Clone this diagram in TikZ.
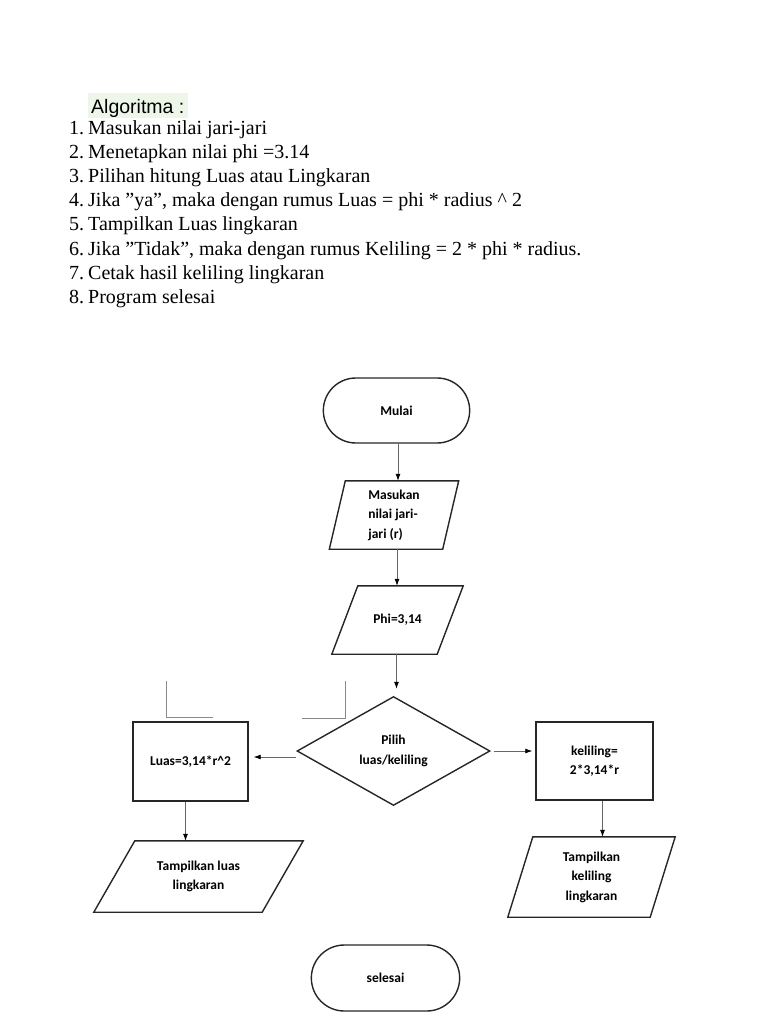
\documentclass[tikz,border=0pt]{standalone}
\usepackage{fontspec}
\setmainfont{Liberation Serif}
\newfontfamily\arialfont{Liberation Sans}
\newfontfamily\calibrifont{Carlito}
\usetikzlibrary{arrows.meta,shapes.geometric,shapes.misc}

\definecolor{notegreen}{HTML}{EEF6EA}
\definecolor{strayline}{HTML}{8A8A8A}

\tikzset{
  boxline/.style={draw=black!85, line width=1.4pt},
  flowtext/.style={font=\calibrifont\bfseries\fontsize{13.5}{19.5}\selectfont, align=center},
  terminal/.style={rounded rectangle, boxline, flowtext, minimum width=153pt, minimum height=65pt},
  process/.style={rectangle, boxline, flowtext, minimum width=115pt, minimum height=79pt},
  decision/.style={diamond, boxline, flowtext, inner sep=0pt, minimum width=193pt, minimum height=109pt},
  iobox/.style={rectangle, flowtext, inner sep=0pt},
  flowarrow/.style={-{Latex[length=7pt,width=5pt,black]}, draw=black!60, line width=0.8pt},
  steptext/.style={anchor=base west, inner sep=0pt, font=\fontsize{20}{24}\selectfont}
}

% outline of an input/output box round a node
\newcommand{\slantbox}[2]{%
  \draw[boxline] ([xshift=#2/2]#1.north west) -- ([xshift=#2/2]#1.north east)
    -- ([xshift=-#2/2]#1.south east) -- ([xshift=-#2/2]#1.south west) -- cycle;}

\begin{document}
\begin{tikzpicture}[x=1pt,y=-1pt]
  \useasboundingbox (0,0) rectangle (768,1024);

  % algoritma
  \fill[notegreen] (88,93) rectangle (188,118);
  \node[anchor=base west, inner sep=0pt, font=\arialfont\fontsize{19.5}{24}\selectfont] (title) at (91,114) {Algoritma :};
  \foreach \n/\txt in {1/Masukan nilai jari-jari,
                       2/Menetapkan nilai phi =3.14,
                       3/Pilihan hitung Luas atau Lingkaran,
                       4/{Jika ”ya”, maka dengan rumus Luas = phi * radius \textasciicircum{} 2},
                       5/Tampilkan Luas lingkaran,
                       6/{Jika ”Tidak”, maka dengan rumus Keliling = 2 * phi * radius.},
                       7/Cetak hasil keliling lingkaran,
                       8/Program selesai}
  {
    \node[steptext] (num\n) at (69,{135+24*(\n-1)}) {\n.};
    \node[steptext] (item\n) at (88,{135+24*(\n-1)}) {\txt};
  }

  % flowchart
  \node[terminal] (mulai) at (396.5,410.5) {Mulai};
  \node[iobox, minimum width=113pt, minimum height=68pt, align=left] (input) at (394,515) {Masukan\\nilai jari-\\jari (r)};
  \slantbox{input}{16pt}
  \node[iobox, minimum width=105pt, minimum height=68pt] (phi) at (397.5,620) {Phi=3,14};
  \slantbox{phi}{26pt}
  \node[decision] (choice) at (393.5,751) {Pilih\\luas/keliling};
  \node[process] (luas) at (190.5,761.5) {Luas=3,14*r\textasciicircum 2};
  \node[process, minimum width=117pt, minimum height=78pt] (keliling) at (594.5,761) {keliling=\\2*3,14*r};
  \node[iobox, minimum width=168pt, minimum height=71pt] (showluas) at (198.5,876.5) {Tampilkan luas\\lingkaran};
  \slantbox{showluas}{41pt}
  \node[iobox, minimum width=142pt, minimum height=80pt] (showkel) at (591.5,877) {Tampilkan\\keliling\\lingkaran};
  \slantbox{showkel}{25pt}
  \node[terminal, minimum width=155pt, minimum height=66pt] (selesai) at (385.5,978) {selesai};

  \draw[strayline, line width=0.9pt] (166,681) -- (166,717) -- (213,717);
  \draw[strayline, line width=0.9pt] (345,681) -- (345,718) -- (302,718);

  \draw[flowarrow] ([xshift=1.5pt]mulai.south) -- ([xshift=1.5pt]mulai.south |- input.north);
  \draw[flowarrow] ([xshift=3pt]input.south) -- ([xshift=3pt]input.south |- phi.north);
  \draw[flowarrow, shorten >=7pt] ([xshift=-1pt]phi.south) -- ([xshift=-1pt]phi.south |- choice.north);
  \draw[flowarrow, shorten >=5pt] ([yshift=-6pt]choice.west) -- ([yshift=-6pt]choice.west -| luas.east);
  \draw[flowarrow, shorten <=3pt, shorten >=3pt] (choice.east) -- (choice.east -| keliling.west);
  \draw[flowarrow] ([xshift=-5pt]luas.south) -- ([xshift=-5pt]luas.south |- showluas.north);
  \draw[flowarrow] ([xshift=8pt]keliling.south) -- ([xshift=8pt]keliling.south |- showkel.north);
\end{tikzpicture}
\end{document}
